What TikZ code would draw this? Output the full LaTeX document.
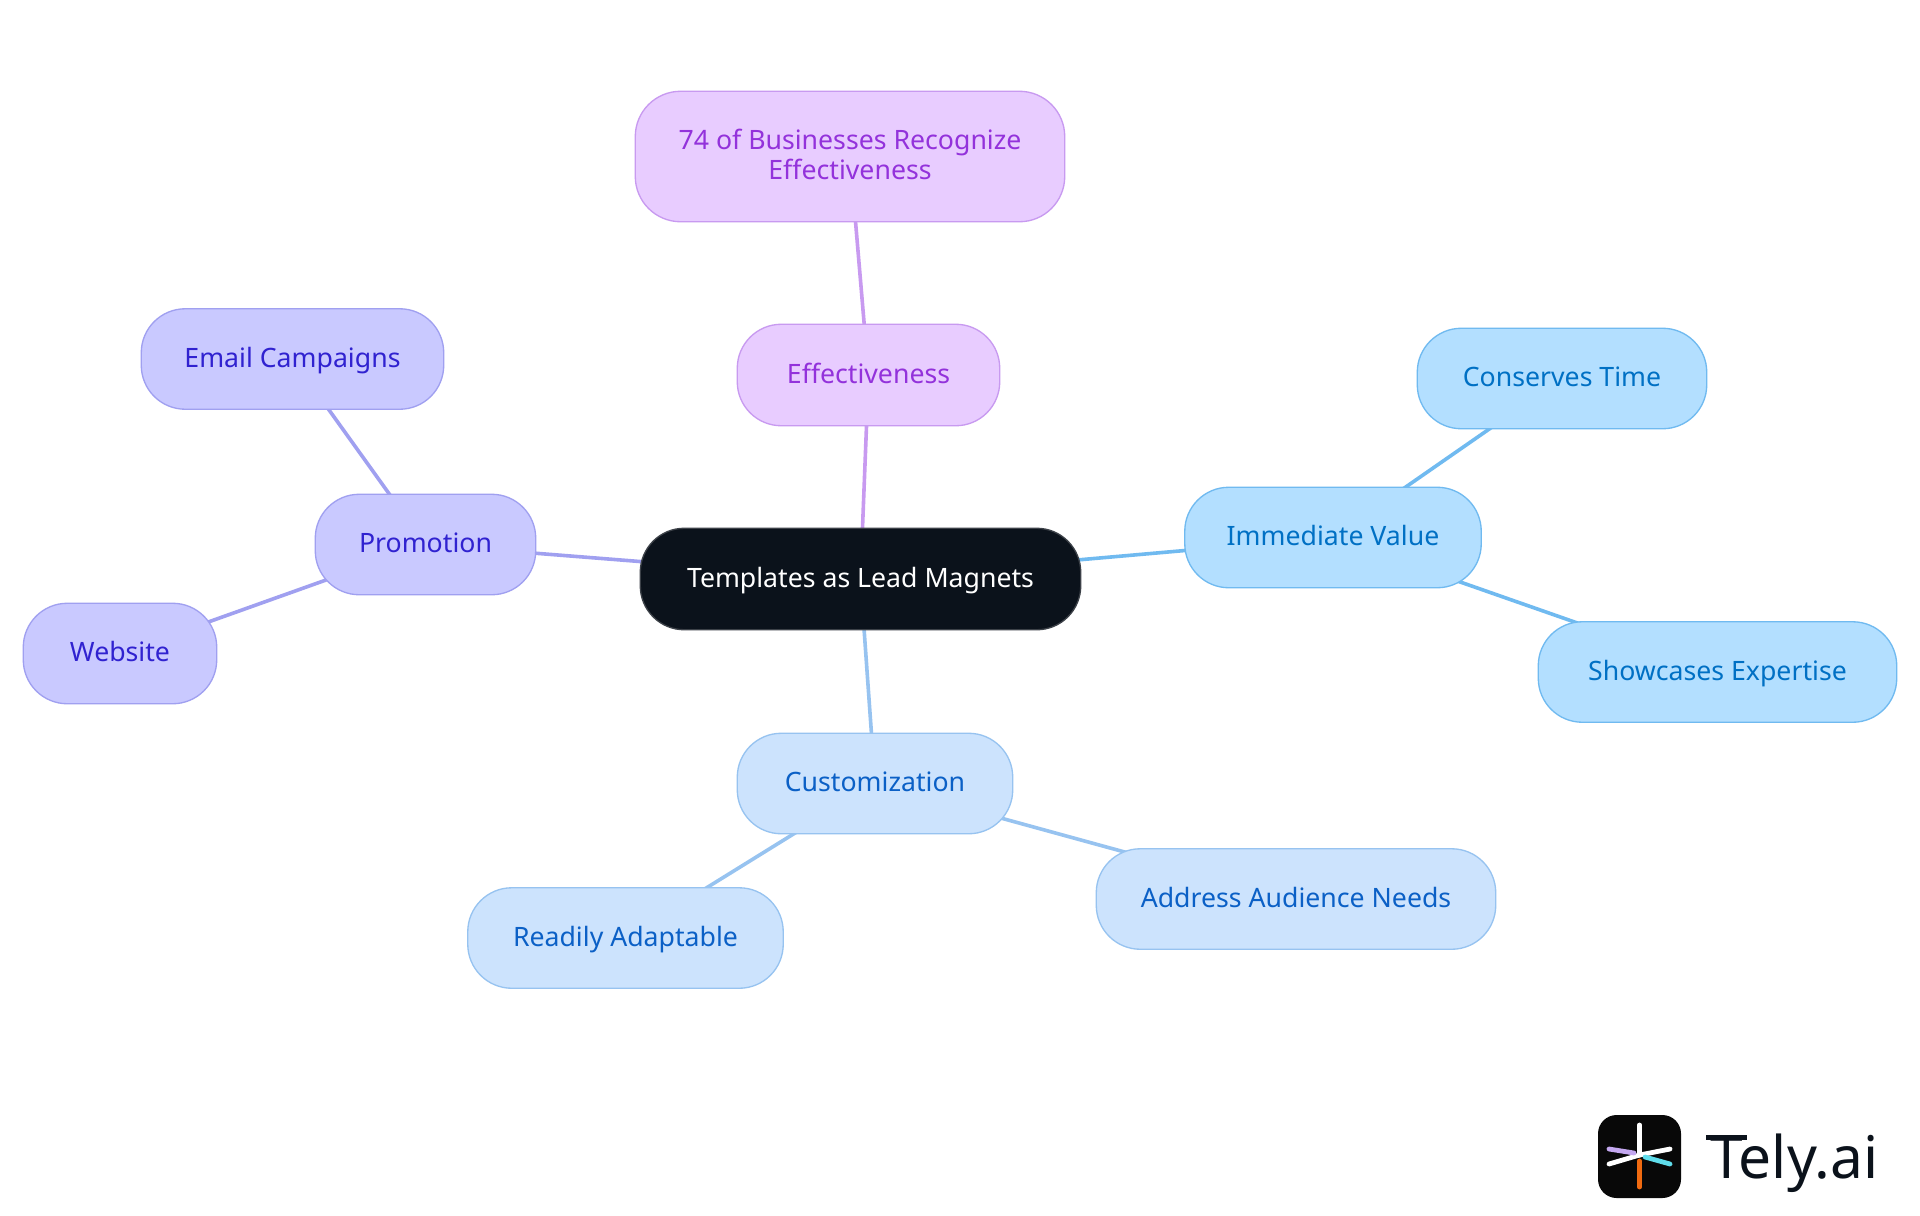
\documentclass[tikz,border=0pt]{standalone}
\usepackage{fontspec}
\setmainfont{Noto Sans}
\usetikzlibrary{backgrounds}
\definecolor{rootfill}{HTML}{0B121B}
\definecolor{rootline}{HTML}{3C4148}
\definecolor{skyfill}{HTML}{B3DFFF}
\definecolor{skyline}{HTML}{70BAF0}
\definecolor{skytext}{HTML}{0070C4}
\definecolor{bluefill}{HTML}{CCE3FD}
\definecolor{blueline}{HTML}{97C3F0}
\definecolor{bluetext}{HTML}{0B60C6}
\definecolor{violetfill}{HTML}{E8CCFF}
\definecolor{violetline}{HTML}{C89AF0}
\definecolor{violettext}{HTML}{9332DB}
\definecolor{indigofill}{HTML}{C9C9FF}
\definecolor{indigoline}{HTML}{A0A0F0}
\definecolor{indigotext}{HTML}{3022D0}
\definecolor{logocyan}{HTML}{5FDDEB}
\definecolor{logoviolet}{HTML}{C4A8F0}
\definecolor{logoorange}{HTML}{F06A10}
\tikzset{
  mm/.style={draw,line width=1pt,rounded corners=33pt,inner sep=0pt,align=center,
    font=\fontsize{20}{22.5}\selectfont,text height=15pt,text depth=3pt},
  box/.style n args={2}{minimum width=#1*0.75pt-0.4pt,minimum height=#2*0.75pt-0.4pt},
  rootn/.style={mm,fill=rootfill,draw=rootline,text=white},
  sky/.style={mm,fill=skyfill,draw=skyline,text=skytext},
  blu/.style={mm,fill=bluefill,draw=blueline,text=bluetext},
  vio/.style={mm,fill=violetfill,draw=violetline,text=violettext},
  ind/.style={mm,fill=indigofill,draw=indigoline,text=indigotext},
  link/.style={line width=2.7pt}
}
\begin{document}
\begin{tikzpicture}[x=0.75pt,y=-0.75pt]
\useasboundingbox (0,0) rectangle (1920,1215);
\node[rootn,box={441}{102}] (root) at (860.5,579) {Templates as Lead Magnets};
\node[sky,box={297}{101}] (imm) at (1333,537.5) {Immediate Value};
\node[sky,box={290}{101}] (cons) at (1562,378.5) {Conserves Time};
\node[sky,box={359}{101}] (show) at (1717.5,672) {Showcases Expertise};
\node[blu,box={276}{101}] (cust) at (875,783.5) {Customization};
\node[blu,box={400}{101}] (addr) at (1296,899) {Address Audience Needs};
\node[blu,box={316}{101}] (read) at (625.5,938) {Readily Adaptable};
\node[vio,box={263}{102}] (eff) at (868.5,375) {Effectiveness};
\node[vio,box={430}{131},rounded corners=34pt,text height=,text depth=] (biz) at (850,156.5) {74 of Businesses Recognize\\Effectiveness\rule[-3pt]{0pt}{3pt}};
\node[ind,box={221}{101}] (prom) at (425.5,544.5) {Promotion};
\node[ind,box={303}{101}] (mail) at (292.5,359) {Email Campaigns};
\node[ind,box={194}{101}] (web) at (120,653.5) {Website};
\begin{scope}[on background layer]
\fill[white] (0,0) rectangle (1920,1215);
\draw[link,skyline] (root.center) -- (imm.center);
\draw[link,skyline] (imm.center) -- (cons.center);
\draw[link,skyline] (imm.center) -- (show.center);
\draw[link,blueline] (root.center) -- (cust.center);
\draw[link,blueline] (cust.center) -- (addr.center);
\draw[link,blueline] (cust.center) -- (read.center);
\draw[link,violetline] (root.center) -- (eff.center);
\draw[link,violetline] (eff.center) -- (biz.center);
\draw[link,indigoline] (root.center) -- (prom.center);
\draw[link,indigoline] (prom.center) -- (mail.center);
\draw[link,indigoline] (prom.center) -- (web.center);
\end{scope}
% logo
\fill[black!97!white,rounded corners=14pt] (1598,1115) rectangle (1681,1198);
\coordinate (hub) at (1639.5,1155);
\begin{scope}[line width=3.6pt,line cap=round]
\draw[white] (hub) -- (1639.5,1125);
\draw[white] (hub) -- (1670,1149);
\draw[white] (hub) -- (1609,1164);
\draw[logocyan] (1645,1157) -- (1670,1164);
\draw[logoviolet] (1634,1153) -- (1609,1149);
\draw[logoorange] (1639.5,1161) -- (1639.5,1187);
\end{scope}
\node[text=rootfill,font=\fontsize{44}{50}\selectfont,anchor=base west,inner sep=0pt] (brand) at (1710,1178) {Tely.ai};
\fill[rootfill] (1706,1135) rectangle (1747,1140);
\end{tikzpicture}
\end{document}
